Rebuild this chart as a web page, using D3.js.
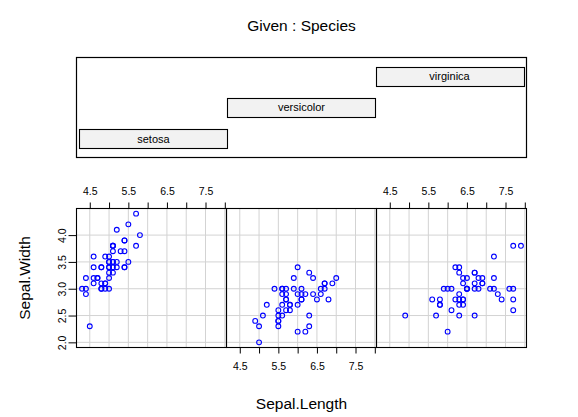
<!DOCTYPE html>
<html>
<head>
<meta charset="utf-8">
<script src="https://cdn.jsdelivr.net/npm/d3@7"></script>
<style>
  body { margin: 0; background: #fff; }
  text { font-family: "Liberation Sans", Arial, sans-serif; fill: #000; }
</style>
</head>
<body>
<div id="chart"></div>
<script>
// conditioning factor
var species = ["setosa", "versicolor", "virginica"];

// iris Sepal.Length / Sepal.Width by species
var setosaLength = [5.1,4.9,4.7,4.6,5.0,5.4,4.6,5.0,4.4,4.9,5.4,4.8,4.8,4.3,5.8,5.7,5.4,5.1,5.7,5.1,5.4,5.1,4.6,5.1,4.8,5.0,5.0,5.2,5.2,4.7,4.8,5.4,5.2,5.5,4.9,5.0,5.5,4.9,4.4,5.1,5.0,4.5,4.4,5.0,5.1,4.8,5.1,4.6,5.3,5.0];
var setosaWidth = [3.5,3.0,3.2,3.1,3.6,3.9,3.4,3.4,2.9,3.1,3.7,3.4,3.0,3.0,4.0,4.4,3.9,3.5,3.8,3.8,3.4,3.7,3.6,3.3,3.4,3.0,3.4,3.5,3.4,3.2,3.1,3.4,4.1,4.2,3.1,3.2,3.5,3.6,3.0,3.4,3.5,2.3,3.2,3.5,3.8,3.0,3.8,3.2,3.7,3.3];
var versicolorLength = [7.0,6.4,6.9,5.5,6.5,5.7,6.3,4.9,6.6,5.2,5.0,5.9,6.0,6.1,5.6,6.7,5.6,5.8,6.2,5.6,5.9,6.1,6.3,6.1,6.4,6.6,6.8,6.7,6.0,5.7,5.5,5.5,5.8,6.0,5.4,6.0,6.7,6.3,5.6,5.5,5.5,6.1,5.8,5.0,5.6,5.7,5.7,6.2,5.1,5.7];
var versicolorWidth = [3.2,3.2,3.1,2.3,2.8,2.8,3.3,2.4,2.9,2.7,2.0,3.0,2.2,2.9,2.9,3.1,3.0,2.7,2.2,2.5,3.2,2.8,2.5,2.8,2.9,3.0,2.8,3.0,2.9,2.6,2.4,2.4,2.7,2.7,3.0,3.4,3.1,2.3,3.0,2.5,2.6,3.0,2.6,2.3,2.7,3.0,2.9,2.9,2.5,2.8];
var virginicaLength = [6.3,5.8,7.1,6.3,6.5,7.6,4.9,7.3,6.7,7.2,6.5,6.4,6.8,5.7,5.8,6.4,6.5,7.7,7.7,6.0,6.9,5.6,7.7,6.3,6.7,7.2,6.2,6.1,6.4,7.2,7.4,7.9,6.4,6.3,6.1,7.7,6.3,6.4,6.0,6.9,6.7,6.9,5.8,6.8,6.7,6.7,6.3,6.5,6.2,5.9];
var virginicaWidth = [3.3,2.7,3.0,2.9,3.0,3.0,2.5,2.9,2.5,3.6,3.2,2.7,3.0,2.5,2.8,3.2,3.0,3.8,2.6,2.2,3.2,2.8,2.8,2.7,3.3,3.2,2.8,3.0,2.8,3.0,2.8,3.8,2.8,2.8,2.6,3.0,3.4,3.1,3.0,3.1,3.1,3.1,2.7,3.2,3.3,3.0,2.5,3.0,3.4,3.0];

// ticks and labels
var xTicks = [4.5,5.0,5.5,6.0,6.5,7.0,7.5,8.0];
var xLabels = [4.5,5.5,6.5,7.5];
var yTicks = [2.0,2.5,3.0,3.5,4.0];

var lengths = [setosaLength, versicolorLength, virginicaLength];
var widths = [setosaWidth, versicolorWidth, virginicaWidth];

var width = 578, height = 417;
var left = 76.5, right = 526.5;
var panelTop = 208.5, panelBottom = 347.5;
var panelW = (right - left) / 3;

var svg = d3.select("#chart")
  .append("svg")
    .attr("width", width)
    .attr("height", height);

// ---- given panel (top) ----
var gx = d3.scaleLinear().domain([0.48, 3.52]).range([left, right]);
var gy = d3.scaleLinear().domain([0.4, 3.6]).range([157.3, 57.3]);

svg.append("rect")
  .attr("x", left).attr("y", 57.5)
  .attr("width", right - left).attr("height", 100)
  .attr("fill", "none").attr("stroke", "#000").attr("stroke-width", 1.2);

var bars = svg.selectAll(".bar")
  .data(species)
  .enter()
  .append("g")
    .attr("class", "bar");

bars.append("rect")
  .attr("x", (d, i) => Math.round(gx(i + 0.5)) + 0.5)
  .attr("y", (d, i) => Math.round(gy(i + 1.3)) + 0.5)
  .attr("width", Math.round(gx(1) - gx(0)))
  .attr("height", Math.round(gy(0.7) - gy(1.3)))
  .attr("fill", "#f2f2f2")
  .attr("stroke", "#000")
  .attr("stroke-width", 1.1);

bars.append("text")
  .attr("x", (d, i) => gx(i + 1))
  .attr("y", (d, i) => gy(i + 1) + 4)
  .attr("text-anchor", "middle")
  .style("font-size", "11px")
  .text(d => d);

svg.append("text")
  .attr("x", (left + right) / 2)
  .attr("y", 31)
  .attr("text-anchor", "middle")
  .style("font-size", "15.5px")
  .text("Given : Species");

// ---- scatter panels ----
var y = d3.scaleLinear().domain([1.904, 4.496]).range([panelBottom, panelTop]);

species.forEach(function(s, i) {
  var x0 = left + i * panelW;
  var x = d3.scaleLinear().domain([4.156, 8.044]).range([x0, x0 + panelW]);
  var g = svg.append("g");

  // grid
  g.selectAll(".vg").data(xTicks).enter().append("line")
    .attr("x1", d => x(d)).attr("x2", d => x(d))
    .attr("y1", panelTop).attr("y2", panelBottom)
    .attr("stroke", "#d3d3d3");
  g.selectAll(".hg").data(yTicks).enter().append("line")
    .attr("x1", x0).attr("x2", x0 + panelW)
    .attr("y1", d => y(d)).attr("y2", d => y(d))
    .attr("stroke", "#d3d3d3");

  // points
  g.selectAll("circle")
    .data(d3.zip(lengths[i], widths[i]))
    .enter()
    .append("circle")
      .attr("cx", d => x(d[0]))
      .attr("cy", d => y(d[1]))
      .attr("r", 2.4)
      .attr("fill", "none")
      .attr("stroke", "blue")
      .attr("stroke-width", 1.1);

  // frame
  g.append("rect")
    .attr("x", x0).attr("y", panelTop)
    .attr("width", panelW).attr("height", panelBottom - panelTop)
    .attr("fill", "none").attr("stroke", "#000").attr("stroke-width", 1.1);

  // x axis alternates: top, bottom, top
  var onTop = (i % 2 === 0);
  var ax = (onTop ? d3.axisTop(x) : d3.axisBottom(x))
    .tickValues(xTicks)
    .tickSize(6)
    .tickFormat(d => xLabels.indexOf(d) >= 0 ? d3.format(".1f")(d) : "");
  var axis = g.append("g")
    .attr("transform", `translate(0, ${onTop ? panelTop : panelBottom})`)
    .call(ax);
  axis.select(".domain").remove();
  axis.selectAll("line").attr("stroke", "#000");
  axis.selectAll("text")
    .attr("fill", "#000")
    .style("font-family", "Liberation Sans, Arial, sans-serif")
    .style("font-size", "10.5px")
    .attr("dy", null)
    .attr("y", onTop ? -14 : 22.5);
});

// y axis on the first panel, labels rotated
var yAxis = svg.append("g")
  .attr("transform", `translate(${left}, 0)`)
  .call(d3.axisLeft(y).tickValues(yTicks).tickSize(8).tickFormat(d3.format(".1f")));
yAxis.select(".domain").remove();
yAxis.selectAll("line").attr("stroke", "#000");
yAxis.selectAll("text")
  .attr("fill", "#000")
  .style("font-family", "Liberation Sans, Arial, sans-serif")
  .style("font-size", "10.5px")
  .attr("x", null).attr("dy", null)
  .attr("text-anchor", "middle")
  .attr("transform", "translate(-11, 0) rotate(-90)");

// axis titles
svg.append("text")
  .attr("x", (left + right) / 2)
  .attr("y", 409)
  .attr("text-anchor", "middle")
  .style("font-size", "15.5px")
  .text("Sepal.Length");

svg.append("text")
  .attr("transform", `translate(30, ${(panelTop + panelBottom) / 2}) rotate(-90)`)
  .attr("text-anchor", "middle")
  .style("font-size", "15.5px")
  .text("Sepal.Width");
</script>
</body>
</html>
